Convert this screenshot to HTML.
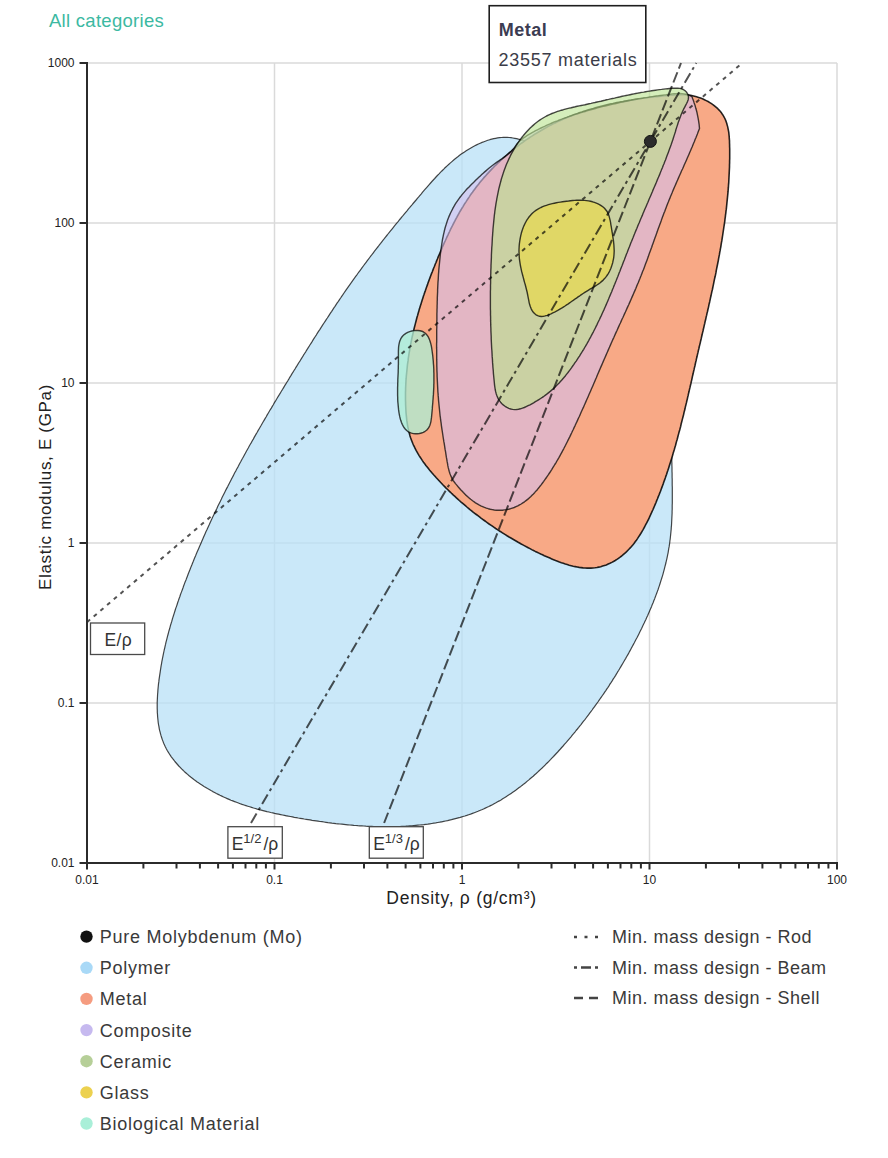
<!DOCTYPE html>
<html><head><meta charset="utf-8">
<style>
html,body{margin:0;padding:0;background:#fff;}
body{width:888px;height:1158px;position:relative;overflow:hidden;font-family:"Liberation Sans",sans-serif;}
svg{position:absolute;left:0;top:0;}
.t{position:absolute;white-space:nowrap;line-height:1;}
</style></head><body>
<svg width="888" height="1158" viewBox="0 0 888 1158">
<g stroke="#dadada" stroke-width="1.5" fill="none">
<line x1="87.0" y1="63" x2="87.0" y2="863"/>
<line x1="274.5" y1="63" x2="274.5" y2="863"/>
<line x1="462.0" y1="63" x2="462.0" y2="863"/>
<line x1="649.5" y1="63" x2="649.5" y2="863"/>
<line x1="837.0" y1="63" x2="837.0" y2="863"/>
<line x1="87" y1="863.0" x2="837" y2="863.0"/>
<line x1="87" y1="703.0" x2="837" y2="703.0"/>
<line x1="87" y1="543.0" x2="837" y2="543.0"/>
<line x1="87" y1="383.0" x2="837" y2="383.0"/>
<line x1="87" y1="223.0" x2="837" y2="223.0"/>
<line x1="87" y1="63.0" x2="837" y2="63.0"/>
</g>
<g stroke="#333" stroke-width="1.4" stroke-linejoin="round">
<path d="M159.0,679.9 L159.3,677.8 L159.6,675.8 L159.9,673.8 L160.2,671.8 L160.5,669.8 L160.8,667.8 L161.1,665.8 L161.5,663.8 L161.8,661.8 L162.2,659.8 L162.6,657.9 L163.0,655.9 L163.4,653.9 L163.8,652.0 L164.2,650.0 L164.7,648.1 L165.1,646.1 L165.6,644.2 L166.0,642.2 L166.5,640.3 L167.0,638.4 L167.5,636.4 L168.0,634.5 L168.5,632.6 L169.0,630.7 L169.6,628.8 L170.1,626.9 L170.6,625.0 L171.2,623.1 L171.8,621.2 L172.3,619.3 L172.9,617.4 L173.5,615.5 L174.1,613.6 L174.7,611.7 L175.3,609.8 L175.9,607.9 L176.6,606.1 L177.2,604.2 L177.8,602.3 L178.5,600.4 L179.1,598.5 L179.8,596.7 L180.4,594.8 L181.1,592.9 L181.8,591.1 L182.5,589.2 L183.2,587.3 L183.8,585.5 L184.5,583.6 L185.2,581.8 L186.0,579.9 L186.7,578.0 L187.4,576.2 L188.1,574.3 L188.8,572.5 L189.6,570.6 L190.3,568.7 L191.0,566.9 L191.8,565.0 L192.5,563.2 L193.3,561.3 L194.0,559.5 L194.8,557.6 L195.6,555.8 L196.3,553.9 L197.1,552.1 L197.9,550.2 L198.7,548.4 L199.5,546.5 L200.3,544.7 L201.1,542.9 L201.9,541.0 L202.7,539.2 L203.5,537.3 L204.3,535.5 L205.1,533.7 L205.9,531.8 L206.8,530.0 L207.6,528.2 L208.4,526.4 L209.3,524.5 L210.1,522.7 L210.9,520.9 L211.8,519.1 L212.6,517.2 L213.5,515.4 L214.4,513.6 L215.2,511.8 L216.1,510.0 L217.0,508.2 L217.8,506.3 L218.7,504.5 L219.6,502.7 L220.5,500.9 L221.4,499.1 L222.2,497.3 L223.1,495.5 L224.0,493.7 L224.9,491.9 L225.8,490.1 L226.7,488.4 L227.7,486.6 L228.6,484.8 L229.5,483.0 L230.4,481.2 L231.3,479.4 L232.2,477.7 L233.2,475.9 L234.1,474.1 L235.0,472.3 L236.0,470.6 L236.9,468.8 L237.9,467.1 L238.8,465.3 L239.7,463.5 L240.7,461.8 L241.6,460.0 L242.6,458.3 L243.6,456.5 L244.5,454.8 L245.5,453.0 L246.4,451.3 L247.4,449.5 L248.4,447.8 L249.3,446.0 L250.3,444.3 L251.3,442.6 L252.3,440.8 L253.3,439.1 L254.2,437.4 L255.2,435.6 L256.2,433.9 L257.2,432.2 L258.2,430.4 L259.2,428.7 L260.2,427.0 L261.2,425.3 L262.2,423.5 L263.2,421.8 L264.2,420.1 L265.2,418.4 L266.2,416.7 L267.2,414.9 L268.2,413.2 L269.2,411.5 L270.2,409.8 L271.3,408.1 L272.3,406.4 L273.3,404.7 L274.3,402.9 L275.4,401.2 L276.4,399.5 L277.4,397.8 L278.4,396.1 L279.5,394.4 L280.5,392.7 L281.5,391.0 L282.6,389.3 L283.6,387.6 L284.6,385.9 L285.7,384.2 L286.7,382.5 L287.8,380.8 L288.8,379.1 L289.8,377.3 L290.9,375.6 L291.9,373.9 L293.0,372.2 L294.0,370.5 L295.1,368.8 L296.1,367.1 L297.2,365.4 L298.2,363.7 L299.3,362.0 L300.4,360.3 L301.4,358.6 L302.5,356.9 L303.5,355.2 L304.6,353.5 L305.7,351.8 L306.7,350.1 L307.8,348.4 L308.9,346.7 L309.9,345.0 L311.0,343.3 L312.1,341.6 L313.1,339.9 L314.2,338.2 L315.3,336.5 L316.4,334.8 L317.4,333.1 L318.5,331.4 L319.6,329.8 L320.7,328.1 L321.8,326.4 L322.9,324.7 L324.0,323.0 L325.1,321.3 L326.2,319.6 L327.3,318.0 L328.4,316.3 L329.5,314.6 L330.6,312.9 L331.7,311.3 L332.8,309.6 L333.9,307.9 L335.0,306.3 L336.1,304.6 L337.2,302.9 L338.4,301.3 L339.5,299.6 L340.6,298.0 L341.7,296.3 L342.9,294.7 L344.0,293.0 L345.1,291.4 L346.3,289.7 L347.4,288.1 L348.6,286.4 L349.7,284.8 L350.9,283.2 L352.0,281.6 L353.2,279.9 L354.3,278.3 L355.5,276.7 L356.7,275.1 L357.8,273.5 L359.0,271.9 L360.2,270.3 L361.4,268.7 L362.5,267.1 L363.7,265.5 L364.9,263.9 L366.1,262.3 L367.3,260.7 L368.5,259.1 L369.7,257.5 L370.9,255.9 L372.1,254.4 L373.3,252.8 L374.5,251.2 L375.7,249.6 L376.9,248.1 L378.2,246.5 L379.4,244.9 L380.6,243.4 L381.8,241.8 L383.1,240.2 L384.3,238.7 L385.5,237.1 L386.8,235.5 L388.0,234.0 L389.3,232.4 L390.5,230.9 L391.8,229.3 L393.0,227.8 L394.3,226.2 L395.5,224.7 L396.8,223.1 L398.1,221.6 L399.3,220.0 L400.6,218.5 L401.9,216.9 L403.2,215.4 L404.4,213.9 L405.7,212.3 L407.0,210.8 L408.3,209.2 L409.6,207.7 L410.9,206.1 L412.2,204.6 L413.5,203.0 L414.8,201.5 L416.1,200.0 L417.4,198.4 L418.7,196.9 L420.0,195.3 L421.3,193.8 L422.6,192.2 L423.9,190.7 L425.2,189.2 L426.6,187.6 L427.9,186.1 L429.2,184.6 L430.6,183.0 L431.9,181.5 L433.3,180.0 L434.7,178.5 L436.0,177.0 L437.4,175.5 L438.8,174.1 L440.2,172.6 L441.6,171.2 L443.1,169.8 L444.5,168.3 L445.9,167.0 L447.4,165.6 L448.9,164.2 L450.4,162.9 L451.9,161.6 L453.4,160.3 L454.9,159.0 L456.5,157.7 L458.1,156.5 L459.6,155.3 L461.3,154.1 L462.9,153.0 L464.5,151.9 L466.2,150.8 L467.9,149.7 L469.6,148.7 L471.3,147.7 L473.0,146.7 L474.8,145.8 L476.6,144.9 L478.4,144.0 L480.2,143.2 L482.1,142.4 L484.0,141.7 L485.9,141.0 L487.8,140.3 L489.8,139.7 L491.7,139.2 L493.7,138.7 L495.6,138.3 L497.6,137.9 L499.5,137.7 L501.5,137.5 L503.4,137.3 L505.3,137.3 L507.3,137.4 L509.2,137.5 L511.0,137.7 L512.9,138.0 L514.8,138.3 L516.6,138.7 L518.5,139.2 L520.3,139.6 L522.2,140.2 L524.0,140.7 L525.8,141.3 L527.7,142.0 L529.5,142.7 L531.3,143.4 L533.1,144.1 L534.9,144.9 L536.7,145.7 L538.4,146.6 L540.2,147.5 L542.0,148.4 L543.7,149.4 L545.5,150.3 L547.2,151.4 L549.0,152.4 L550.7,153.5 L552.4,154.6 L554.1,155.7 L555.8,156.9 L557.5,158.0 L559.2,159.3 L560.8,160.5 L562.5,161.7 L564.1,163.0 L565.7,164.3 L567.4,165.7 L569.0,167.0 L570.6,168.4 L572.2,169.8 L573.7,171.2 L575.3,172.6 L576.9,174.0 L578.4,175.5 L579.9,177.0 L581.4,178.5 L582.9,180.0 L584.4,181.5 L585.9,183.0 L587.3,184.6 L588.8,186.2 L590.2,187.7 L591.6,189.3 L593.0,190.9 L594.4,192.5 L595.8,194.1 L597.2,195.8 L598.5,197.4 L599.8,199.0 L601.1,200.7 L602.4,202.3 L603.7,204.0 L605.0,205.7 L606.2,207.3 L607.4,209.0 L608.6,210.7 L609.8,212.4 L611.0,214.1 L612.2,215.7 L613.4,217.5 L614.5,219.2 L615.6,220.9 L616.7,222.6 L617.8,224.3 L618.9,226.0 L620.0,227.8 L621.0,229.5 L622.0,231.3 L623.1,233.0 L624.1,234.8 L625.1,236.5 L626.0,238.3 L627.0,240.1 L628.0,241.8 L628.9,243.6 L629.8,245.4 L630.7,247.2 L631.6,249.0 L632.5,250.8 L633.4,252.6 L634.3,254.4 L635.1,256.2 L635.9,258.0 L636.8,259.8 L637.6,261.7 L638.4,263.5 L639.1,265.3 L639.9,267.2 L640.7,269.0 L641.4,270.8 L642.1,272.7 L642.9,274.5 L643.6,276.4 L644.3,278.3 L645.0,280.1 L645.6,282.0 L646.3,283.9 L647.0,285.7 L647.6,287.6 L648.2,289.5 L648.8,291.4 L649.5,293.3 L650.1,295.2 L650.6,297.1 L651.2,299.0 L651.8,300.9 L652.3,302.8 L652.9,304.7 L653.4,306.6 L653.9,308.5 L654.5,310.4 L655.0,312.3 L655.5,314.3 L655.9,316.2 L656.4,318.1 L656.9,320.0 L657.3,322.0 L657.8,323.9 L658.2,325.9 L658.7,327.8 L659.1,329.7 L659.5,331.7 L659.9,333.6 L660.3,335.6 L660.7,337.6 L661.0,339.5 L661.4,341.5 L661.8,343.4 L662.1,345.4 L662.5,347.4 L662.8,349.3 L663.1,351.3 L663.4,353.3 L663.8,355.2 L664.1,357.2 L664.4,359.2 L664.6,361.2 L664.9,363.1 L665.2,365.1 L665.5,367.1 L665.7,369.1 L666.0,371.1 L666.2,373.1 L666.5,375.1 L666.7,377.0 L666.9,379.0 L667.1,381.0 L667.4,383.0 L667.6,385.0 L667.8,387.0 L668.0,389.0 L668.2,391.0 L668.3,393.0 L668.5,395.0 L668.7,397.0 L668.9,399.0 L669.0,401.0 L669.2,403.0 L669.3,405.0 L669.5,407.0 L669.6,409.0 L669.7,411.0 L669.9,413.0 L670.0,415.0 L670.1,417.0 L670.2,419.1 L670.4,421.1 L670.5,423.1 L670.6,425.1 L670.7,427.1 L670.8,429.1 L670.9,431.1 L670.9,433.1 L671.0,435.1 L671.1,437.1 L671.2,439.1 L671.3,441.1 L671.3,443.1 L671.4,445.1 L671.5,447.1 L671.5,449.2 L671.6,451.2 L671.6,453.2 L671.7,455.2 L671.7,457.2 L671.8,459.2 L671.8,461.2 L671.9,463.2 L671.9,465.2 L672.0,467.2 L672.0,469.2 L672.0,471.2 L672.1,473.2 L672.1,475.2 L672.1,477.2 L672.2,479.2 L672.2,481.2 L672.2,483.2 L672.2,485.2 L672.3,487.2 L672.3,489.2 L672.3,491.2 L672.3,493.2 L672.3,495.2 L672.3,497.2 L672.3,499.2 L672.3,501.2 L672.3,503.2 L672.2,505.2 L672.2,507.2 L672.2,509.2 L672.1,511.2 L672.1,513.2 L672.0,515.2 L671.9,517.2 L671.8,519.2 L671.7,521.2 L671.6,523.2 L671.5,525.2 L671.3,527.1 L671.2,529.1 L671.0,531.1 L670.8,533.1 L670.6,535.1 L670.4,537.0 L670.2,539.0 L669.9,541.0 L669.7,543.0 L669.4,544.9 L669.1,546.9 L668.7,548.8 L668.4,550.8 L668.1,552.8 L667.7,554.7 L667.3,556.7 L666.9,558.6 L666.4,560.6 L666.0,562.5 L665.5,564.5 L665.0,566.4 L664.5,568.3 L664.0,570.3 L663.5,572.2 L663.0,574.1 L662.4,576.1 L661.8,578.0 L661.2,579.9 L660.6,581.8 L660.0,583.7 L659.4,585.6 L658.7,587.6 L658.1,589.5 L657.4,591.4 L656.7,593.2 L656.0,595.1 L655.3,597.0 L654.6,598.9 L653.8,600.8 L653.1,602.7 L652.3,604.5 L651.6,606.4 L650.8,608.3 L650.0,610.1 L649.2,612.0 L648.4,613.8 L647.6,615.7 L646.7,617.5 L645.9,619.4 L645.0,621.2 L644.2,623.0 L643.3,624.8 L642.4,626.7 L641.6,628.5 L640.7,630.3 L639.8,632.1 L638.9,633.9 L638.0,635.7 L637.1,637.5 L636.1,639.3 L635.2,641.0 L634.3,642.8 L633.3,644.6 L632.4,646.3 L631.4,648.1 L630.5,649.9 L629.5,651.6 L628.6,653.4 L627.6,655.1 L626.6,656.8 L625.6,658.6 L624.6,660.3 L623.6,662.0 L622.6,663.7 L621.6,665.4 L620.6,667.1 L619.6,668.8 L618.6,670.5 L617.5,672.2 L616.5,673.9 L615.5,675.6 L614.4,677.3 L613.3,678.9 L612.3,680.6 L611.2,682.3 L610.1,683.9 L609.1,685.6 L608.0,687.3 L606.9,688.9 L605.8,690.6 L604.7,692.2 L603.6,693.8 L602.4,695.5 L601.3,697.1 L600.2,698.7 L599.0,700.3 L597.9,702.0 L596.7,703.6 L595.6,705.2 L594.4,706.8 L593.2,708.4 L592.1,710.0 L590.9,711.6 L589.7,713.2 L588.5,714.8 L587.3,716.4 L586.1,718.0 L584.9,719.6 L583.6,721.1 L582.4,722.7 L581.2,724.3 L579.9,725.8 L578.7,727.4 L577.4,729.0 L576.1,730.5 L574.9,732.1 L573.6,733.7 L572.3,735.2 L571.0,736.8 L569.7,738.3 L568.4,739.8 L567.1,741.4 L565.8,742.9 L564.4,744.4 L563.1,746.0 L561.7,747.5 L560.4,749.0 L559.0,750.5 L557.7,752.0 L556.3,753.5 L554.9,755.0 L553.5,756.5 L552.1,757.9 L550.7,759.4 L549.3,760.8 L547.9,762.3 L546.4,763.7 L545.0,765.2 L543.5,766.6 L542.1,768.0 L540.6,769.4 L539.1,770.8 L537.7,772.1 L536.2,773.5 L534.7,774.8 L533.2,776.2 L531.6,777.5 L530.1,778.8 L528.6,780.1 L527.0,781.4 L525.5,782.7 L523.9,783.9 L522.3,785.2 L520.8,786.4 L519.2,787.6 L517.6,788.8 L516.0,790.0 L514.3,791.2 L512.7,792.3 L511.1,793.4 L509.4,794.6 L507.8,795.6 L506.1,796.7 L504.4,797.8 L502.7,798.8 L501.0,799.9 L499.3,800.9 L497.6,801.8 L495.9,802.8 L494.1,803.7 L492.4,804.7 L490.6,805.6 L488.8,806.5 L487.1,807.3 L485.3,808.1 L483.5,809.0 L481.7,809.8 L479.8,810.5 L478.0,811.3 L476.2,812.0 L474.3,812.7 L472.5,813.4 L470.6,814.1 L468.7,814.7 L466.8,815.4 L464.9,816.0 L463.0,816.5 L461.1,817.1 L459.2,817.7 L457.3,818.2 L455.4,818.7 L453.4,819.2 L451.5,819.7 L449.5,820.1 L447.6,820.6 L445.6,821.0 L443.7,821.4 L441.7,821.8 L439.7,822.2 L437.7,822.5 L435.8,822.9 L433.8,823.2 L431.8,823.5 L429.8,823.8 L427.8,824.1 L425.8,824.3 L423.8,824.6 L421.8,824.8 L419.8,825.0 L417.8,825.2 L415.8,825.4 L413.8,825.6 L411.8,825.8 L409.8,825.9 L407.8,826.0 L405.8,826.2 L403.8,826.3 L401.8,826.4 L399.8,826.5 L397.8,826.5 L395.8,826.6 L393.8,826.6 L391.8,826.7 L389.8,826.7 L387.8,826.7 L385.8,826.7 L383.8,826.7 L381.8,826.7 L379.8,826.7 L377.8,826.6 L375.8,826.6 L373.8,826.5 L371.8,826.4 L369.8,826.4 L367.8,826.3 L365.8,826.2 L363.8,826.0 L361.8,825.9 L359.8,825.8 L357.8,825.7 L355.8,825.5 L353.8,825.4 L351.8,825.2 L349.8,825.0 L347.8,824.8 L345.8,824.6 L343.9,824.4 L341.9,824.2 L339.9,824.0 L337.9,823.8 L335.9,823.6 L333.9,823.3 L331.9,823.1 L329.9,822.8 L328.0,822.6 L326.0,822.3 L324.0,822.0 L322.0,821.7 L320.0,821.5 L318.0,821.2 L316.1,820.9 L314.1,820.6 L312.1,820.3 L310.1,819.9 L308.1,819.6 L306.2,819.3 L304.2,819.0 L302.2,818.6 L300.2,818.3 L298.3,818.0 L296.3,817.6 L294.3,817.3 L292.4,816.9 L290.4,816.5 L288.4,816.2 L286.5,815.8 L284.5,815.4 L282.5,815.0 L280.6,814.6 L278.6,814.2 L276.7,813.8 L274.7,813.4 L272.8,812.9 L270.8,812.5 L268.9,812.0 L266.9,811.6 L265.0,811.1 L263.1,810.6 L261.2,810.1 L259.2,809.6 L257.3,809.1 L255.4,808.5 L253.5,808.0 L251.6,807.4 L249.7,806.8 L247.8,806.2 L245.9,805.6 L244.0,805.0 L242.1,804.4 L240.2,803.7 L238.4,803.0 L236.5,802.3 L234.6,801.6 L232.8,800.9 L230.9,800.2 L229.1,799.4 L227.2,798.6 L225.4,797.8 L223.6,797.0 L221.8,796.1 L220.0,795.3 L218.2,794.4 L216.4,793.5 L214.6,792.5 L212.8,791.6 L211.0,790.6 L209.3,789.6 L207.5,788.6 L205.8,787.5 L204.0,786.4 L202.3,785.3 L200.6,784.2 L198.9,783.1 L197.2,781.9 L195.6,780.7 L193.9,779.5 L192.3,778.2 L190.7,777.0 L189.1,775.7 L187.6,774.4 L186.0,773.0 L184.5,771.7 L183.1,770.3 L181.6,768.9 L180.2,767.4 L178.8,766.0 L177.5,764.5 L176.2,763.0 L174.9,761.5 L173.7,759.9 L172.5,758.4 L171.3,756.8 L170.2,755.2 L169.1,753.5 L168.1,751.9 L167.1,750.2 L166.2,748.5 L165.3,746.7 L164.5,745.0 L163.7,743.2 L163.0,741.4 L162.3,739.6 L161.7,737.8 L161.1,735.9 L160.6,734.1 L160.1,732.2 L159.6,730.3 L159.2,728.3 L158.9,726.4 L158.5,724.5 L158.2,722.5 L158.0,720.5 L157.8,718.5 L157.6,716.5 L157.5,714.5 L157.3,712.5 L157.3,710.5 L157.2,708.5 L157.2,706.5 L157.2,704.4 L157.2,702.4 L157.3,700.3 L157.4,698.3 L157.5,696.2 L157.6,694.2 L157.8,692.1 L157.9,690.1 L158.1,688.0 L158.3,686.0 L158.5,683.9 L158.8,681.9Z" fill="rgb(184,224,247)" fill-opacity="0.75" stroke="#000" stroke-opacity="0.72" stroke-width="1.2"/>
<path d="M511.4,151.1 L512.9,149.8 L514.5,148.6 L516.1,147.3 L517.7,146.1 L519.2,144.9 L520.8,143.7 L522.5,142.5 L524.1,141.4 L525.7,140.2 L527.3,139.1 L529.0,138.0 L530.6,136.9 L532.3,135.8 L533.9,134.8 L535.6,133.7 L537.3,132.7 L539.0,131.7 L540.7,130.7 L542.4,129.7 L544.1,128.7 L545.8,127.8 L547.5,126.8 L549.2,125.9 L551.0,125.0 L552.7,124.1 L554.5,123.2 L556.3,122.4 L558.0,121.5 L559.8,120.7 L561.6,119.9 L563.4,119.1 L565.2,118.3 L567.0,117.6 L568.9,116.8 L570.7,116.1 L572.6,115.3 L574.4,114.6 L576.3,113.9 L578.1,113.3 L580.0,112.6 L581.9,112.0 L583.8,111.3 L585.7,110.7 L587.6,110.1 L589.5,109.5 L591.4,108.9 L593.3,108.4 L595.3,107.8 L597.2,107.3 L599.2,106.8 L601.1,106.3 L603.1,105.8 L605.0,105.3 L607.0,104.8 L609.0,104.3 L610.9,103.9 L612.9,103.5 L614.9,103.0 L616.9,102.6 L618.9,102.2 L620.9,101.8 L622.9,101.5 L624.9,101.1 L626.9,100.7 L628.9,100.4 L630.9,100.1 L632.9,99.7 L634.9,99.4 L636.9,99.1 L638.9,98.8 L640.9,98.5 L642.9,98.3 L644.9,98.0 L646.9,97.7 L648.9,97.5 L650.9,97.2 L652.9,97.0 L654.9,96.8 L656.9,96.6 L658.9,96.4 L660.9,96.1 L662.9,96.0 L664.9,95.8 L666.9,95.6 L668.9,95.4 L670.8,95.2 L672.8,95.1 L674.8,95.0 L676.8,94.8 L678.7,94.8 L680.7,94.7 L682.7,94.7 L684.7,94.8 L686.7,94.9 L688.7,95.1 L690.6,95.4 L692.6,95.8 L694.6,96.3 L696.6,96.8 L698.6,97.4 L700.6,98.1 L702.5,98.8 L704.4,99.7 L706.2,100.6 L708.1,101.5 L709.8,102.6 L711.5,103.7 L713.2,104.8 L714.8,106.1 L716.3,107.4 L717.8,108.7 L719.1,110.1 L720.4,111.6 L721.6,113.1 L722.7,114.7 L723.7,116.3 L724.6,118.0 L725.4,119.7 L726.1,121.4 L726.7,123.2 L727.2,125.1 L727.7,126.9 L728.1,128.8 L728.5,130.8 L728.8,132.7 L729.0,134.7 L729.2,136.7 L729.3,138.7 L729.5,140.7 L729.5,142.7 L729.6,144.7 L729.6,146.8 L729.7,148.8 L729.7,150.8 L729.7,152.9 L729.7,154.9 L729.7,156.9 L729.7,158.9 L729.6,161.0 L729.6,163.0 L729.5,165.0 L729.5,167.0 L729.4,169.1 L729.3,171.1 L729.2,173.1 L729.1,175.1 L729.0,177.1 L728.9,179.1 L728.8,181.2 L728.7,183.2 L728.5,185.2 L728.4,187.2 L728.2,189.2 L728.1,191.2 L727.9,193.2 L727.7,195.2 L727.5,197.2 L727.3,199.2 L727.1,201.2 L726.9,203.2 L726.7,205.2 L726.5,207.2 L726.3,209.2 L726.0,211.2 L725.8,213.1 L725.5,215.1 L725.3,217.1 L725.0,219.1 L724.8,221.1 L724.5,223.1 L724.2,225.1 L723.9,227.0 L723.6,229.0 L723.3,231.0 L723.0,233.0 L722.7,235.0 L722.4,236.9 L722.1,238.9 L721.8,240.9 L721.4,242.9 L721.1,244.8 L720.8,246.8 L720.4,248.8 L720.1,250.7 L719.7,252.7 L719.4,254.7 L719.0,256.6 L718.6,258.6 L718.3,260.6 L717.9,262.5 L717.5,264.5 L717.1,266.5 L716.7,268.4 L716.3,270.4 L716.0,272.4 L715.6,274.3 L715.2,276.3 L714.7,278.2 L714.3,280.2 L713.9,282.2 L713.5,284.1 L713.1,286.1 L712.7,288.0 L712.3,290.0 L711.8,291.9 L711.4,293.9 L711.0,295.8 L710.5,297.8 L710.1,299.8 L709.7,301.7 L709.2,303.7 L708.8,305.6 L708.4,307.6 L707.9,309.5 L707.5,311.5 L707.0,313.4 L706.6,315.4 L706.1,317.3 L705.7,319.3 L705.2,321.2 L704.8,323.2 L704.3,325.1 L703.9,327.1 L703.4,329.0 L703.0,331.0 L702.5,332.9 L702.1,334.8 L701.6,336.8 L701.2,338.7 L700.7,340.7 L700.3,342.6 L699.8,344.6 L699.3,346.5 L698.9,348.5 L698.4,350.4 L698.0,352.4 L697.5,354.3 L697.1,356.3 L696.6,358.2 L696.2,360.2 L695.7,362.1 L695.3,364.0 L694.9,366.0 L694.4,367.9 L694.0,369.9 L693.5,371.8 L693.1,373.8 L692.6,375.7 L692.2,377.7 L691.8,379.6 L691.3,381.6 L690.9,383.5 L690.4,385.5 L690.0,387.4 L689.5,389.3 L689.1,391.3 L688.6,393.2 L688.2,395.2 L687.7,397.1 L687.3,399.1 L686.8,401.0 L686.4,402.9 L685.9,404.9 L685.4,406.8 L685.0,408.8 L684.5,410.7 L684.0,412.6 L683.6,414.6 L683.1,416.5 L682.6,418.4 L682.1,420.4 L681.6,422.3 L681.1,424.3 L680.7,426.2 L680.2,428.1 L679.7,430.0 L679.1,432.0 L678.6,433.9 L678.1,435.8 L677.6,437.8 L677.1,439.7 L676.5,441.6 L676.0,443.5 L675.5,445.5 L674.9,447.4 L674.4,449.3 L673.8,451.2 L673.2,453.1 L672.7,455.1 L672.1,457.0 L671.5,458.9 L670.9,460.8 L670.3,462.7 L669.7,464.6 L669.1,466.5 L668.5,468.4 L667.9,470.3 L667.2,472.2 L666.6,474.2 L665.9,476.1 L665.3,478.0 L664.6,479.9 L663.9,481.7 L663.3,483.6 L662.6,485.5 L661.9,487.4 L661.2,489.3 L660.5,491.2 L659.7,493.1 L659.0,495.0 L658.2,496.9 L657.5,498.7 L656.7,500.6 L656.0,502.5 L655.2,504.4 L654.4,506.3 L653.6,508.1 L652.8,510.0 L651.9,511.9 L651.1,513.7 L650.2,515.6 L649.4,517.4 L648.5,519.3 L647.6,521.1 L646.7,522.9 L645.7,524.7 L644.8,526.5 L643.8,528.3 L642.8,530.1 L641.8,531.8 L640.8,533.5 L639.7,535.2 L638.6,536.9 L637.5,538.6 L636.4,540.2 L635.2,541.8 L634.0,543.4 L632.8,544.9 L631.5,546.4 L630.2,547.9 L628.9,549.3 L627.5,550.7 L626.1,552.1 L624.7,553.4 L623.2,554.7 L621.7,556.0 L620.1,557.2 L618.5,558.3 L616.9,559.4 L615.2,560.5 L613.5,561.5 L611.8,562.4 L610.0,563.3 L608.2,564.1 L606.3,564.9 L604.5,565.5 L602.6,566.1 L600.7,566.7 L598.8,567.1 L596.9,567.5 L594.9,567.8 L593.0,568.0 L591.0,568.1 L589.1,568.1 L587.1,568.1 L585.1,568.0 L583.1,567.9 L581.1,567.6 L579.2,567.4 L577.2,567.0 L575.2,566.6 L573.2,566.2 L571.2,565.7 L569.2,565.2 L567.2,564.6 L565.3,564.0 L563.3,563.3 L561.4,562.7 L559.4,562.0 L557.5,561.2 L555.6,560.5 L553.6,559.7 L551.7,558.9 L549.9,558.1 L548.0,557.3 L546.2,556.5 L544.3,555.7 L542.5,554.8 L540.7,554.0 L538.9,553.1 L537.1,552.2 L535.3,551.4 L533.5,550.5 L531.7,549.6 L530.0,548.6 L528.2,547.7 L526.4,546.8 L524.7,545.9 L522.9,544.9 L521.2,544.0 L519.5,543.0 L517.7,542.0 L516.0,541.0 L514.3,540.0 L512.6,539.0 L510.9,538.0 L509.1,537.0 L507.4,536.0 L505.7,534.9 L504.1,533.9 L502.4,532.8 L500.7,531.7 L499.0,530.7 L497.4,529.6 L495.7,528.5 L494.1,527.4 L492.4,526.2 L490.8,525.1 L489.1,524.0 L487.5,522.8 L485.9,521.7 L484.3,520.5 L482.7,519.3 L481.0,518.1 L479.5,516.9 L477.9,515.7 L476.3,514.5 L474.7,513.3 L473.1,512.1 L471.6,510.8 L470.0,509.6 L468.5,508.3 L466.9,507.0 L465.4,505.7 L463.9,504.4 L462.4,503.1 L460.8,501.8 L459.3,500.5 L457.8,499.1 L456.4,497.8 L454.9,496.4 L453.4,495.1 L451.9,493.7 L450.5,492.3 L449.0,490.9 L447.6,489.5 L446.1,488.1 L444.7,486.6 L443.3,485.2 L441.9,483.7 L440.5,482.3 L439.1,480.8 L437.7,479.3 L436.3,477.8 L435.0,476.3 L433.6,474.8 L432.3,473.3 L431.0,471.7 L429.7,470.2 L428.4,468.6 L427.2,467.0 L425.9,465.4 L424.7,463.8 L423.5,462.2 L422.4,460.6 L421.3,458.9 L420.2,457.2 L419.1,455.6 L418.1,453.9 L417.1,452.1 L416.1,450.4 L415.2,448.7 L414.4,446.9 L413.5,445.1 L412.7,443.3 L412.0,441.5 L411.3,439.7 L410.6,437.8 L410.0,435.9 L409.5,434.0 L409.0,432.1 L408.5,430.2 L408.1,428.2 L407.7,426.3 L407.4,424.3 L407.1,422.3 L406.8,420.4 L406.6,418.4 L406.4,416.4 L406.2,414.4 L406.0,412.3 L405.9,410.3 L405.8,408.3 L405.7,406.3 L405.6,404.3 L405.6,402.3 L405.5,400.3 L405.5,398.3 L405.5,396.2 L405.5,394.2 L405.5,392.2 L405.6,390.2 L405.6,388.2 L405.7,386.2 L405.8,384.2 L405.9,382.2 L406.0,380.2 L406.2,378.2 L406.3,376.2 L406.5,374.3 L406.7,372.3 L406.9,370.3 L407.1,368.3 L407.3,366.3 L407.5,364.3 L407.8,362.3 L408.1,360.4 L408.3,358.4 L408.6,356.4 L408.9,354.4 L409.2,352.5 L409.6,350.5 L409.9,348.5 L410.3,346.6 L410.6,344.6 L411.0,342.6 L411.4,340.7 L411.8,338.7 L412.2,336.8 L412.7,334.8 L413.1,332.9 L413.6,330.9 L414.0,329.0 L414.5,327.0 L415.0,325.1 L415.5,323.1 L416.0,321.2 L416.5,319.3 L417.0,317.3 L417.6,315.4 L418.1,313.5 L418.7,311.6 L419.2,309.6 L419.8,307.7 L420.4,305.8 L421.0,303.9 L421.6,302.0 L422.2,300.1 L422.8,298.2 L423.4,296.3 L424.1,294.3 L424.7,292.4 L425.4,290.6 L426.0,288.7 L426.7,286.8 L427.4,284.9 L428.0,283.0 L428.7,281.1 L429.4,279.2 L430.1,277.4 L430.8,275.5 L431.5,273.6 L432.3,271.7 L433.0,269.9 L433.7,268.0 L434.5,266.2 L435.2,264.3 L436.0,262.5 L436.7,260.6 L437.5,258.8 L438.2,256.9 L439.0,255.1 L439.8,253.2 L440.6,251.4 L441.4,249.6 L442.1,247.7 L442.9,245.9 L443.7,244.1 L444.5,242.3 L445.4,240.5 L446.2,238.7 L447.0,236.9 L447.9,235.1 L448.7,233.3 L449.6,231.5 L450.4,229.7 L451.3,227.9 L452.2,226.2 L453.1,224.4 L454.0,222.6 L454.9,220.9 L455.8,219.1 L456.8,217.4 L457.7,215.7 L458.7,213.9 L459.6,212.2 L460.6,210.5 L461.6,208.8 L462.7,207.1 L463.7,205.4 L464.7,203.7 L465.8,202.1 L466.9,200.4 L468.0,198.7 L469.1,197.1 L470.2,195.4 L471.3,193.8 L472.5,192.2 L473.7,190.5 L474.9,188.9 L476.1,187.3 L477.3,185.7 L478.6,184.2 L479.8,182.6 L481.1,181.0 L482.4,179.5 L483.7,177.9 L485.1,176.4 L486.4,174.9 L487.8,173.4 L489.2,171.9 L490.6,170.4 L492.0,168.9 L493.4,167.5 L494.8,166.0 L496.3,164.6 L497.7,163.2 L499.2,161.8 L500.7,160.4 L502.2,159.0 L503.7,157.7 L505.2,156.3 L506.7,155.0 L508.3,153.7 L509.8,152.4Z" fill="#f8a986" stroke="#000" stroke-opacity="0.85" stroke-width="1.6"/>
<path d="M691.9,96.6 L692.6,98.5 L693.4,100.5 L694.0,102.4 L694.7,104.4 L695.3,106.3 L695.8,108.3 L696.4,110.3 L696.9,112.2 L697.3,114.2 L697.7,116.2 L698.1,118.2 L698.5,120.3 L698.8,122.3 L699.1,124.3 L699.3,126.4 L699.5,128.4 L698.8,130.3 L698.1,132.1 L697.4,134.0 L696.6,135.9 L695.9,137.7 L695.1,139.6 L694.4,141.5 L693.6,143.3 L692.8,145.2 L692.1,147.0 L691.3,148.8 L690.5,150.7 L689.7,152.5 L688.9,154.4 L688.1,156.2 L687.3,158.0 L686.5,159.9 L685.7,161.7 L684.9,163.5 L684.1,165.3 L683.3,167.2 L682.5,169.0 L681.6,170.8 L680.8,172.7 L680.0,174.5 L679.2,176.3 L678.4,178.1 L677.6,180.0 L676.8,181.8 L676.0,183.6 L675.2,185.5 L674.4,187.3 L673.6,189.1 L672.8,191.0 L672.1,192.8 L671.3,194.7 L670.5,196.5 L669.8,198.4 L669.0,200.2 L668.3,202.1 L667.5,204.0 L666.8,205.8 L666.1,207.7 L665.4,209.5 L664.7,211.4 L663.9,213.3 L663.2,215.2 L662.5,217.0 L661.8,218.9 L661.2,220.8 L660.5,222.7 L659.8,224.6 L659.1,226.4 L658.4,228.3 L657.7,230.2 L657.1,232.1 L656.4,234.0 L655.7,235.9 L655.0,237.8 L654.4,239.6 L653.7,241.5 L653.0,243.4 L652.3,245.3 L651.7,247.2 L651.0,249.1 L650.3,251.0 L649.6,252.8 L648.9,254.7 L648.3,256.6 L647.6,258.5 L646.9,260.4 L646.2,262.2 L645.5,264.1 L644.8,266.0 L644.1,267.9 L643.4,269.7 L642.6,271.6 L641.9,273.5 L641.2,275.3 L640.4,277.2 L639.7,279.0 L638.9,280.9 L638.2,282.7 L637.4,284.6 L636.6,286.4 L635.9,288.3 L635.1,290.1 L634.3,291.9 L633.5,293.8 L632.7,295.6 L631.9,297.4 L631.1,299.3 L630.3,301.1 L629.5,302.9 L628.7,304.8 L627.8,306.6 L627.0,308.4 L626.2,310.2 L625.4,312.0 L624.5,313.9 L623.7,315.7 L622.9,317.5 L622.0,319.3 L621.2,321.1 L620.4,323.0 L619.5,324.8 L618.7,326.6 L617.9,328.4 L617.1,330.3 L616.2,332.1 L615.4,333.9 L614.6,335.7 L613.8,337.6 L612.9,339.4 L612.1,341.2 L611.3,343.1 L610.5,344.9 L609.7,346.7 L608.9,348.6 L608.1,350.4 L607.3,352.2 L606.5,354.1 L605.7,355.9 L604.9,357.7 L604.1,359.6 L603.3,361.4 L602.5,363.3 L601.7,365.1 L600.9,366.9 L600.1,368.8 L599.3,370.6 L598.5,372.5 L597.7,374.3 L596.9,376.2 L596.2,378.0 L595.4,379.8 L594.6,381.7 L593.8,383.5 L593.0,385.4 L592.2,387.2 L591.4,389.0 L590.6,390.9 L589.8,392.7 L589.0,394.5 L588.2,396.4 L587.4,398.2 L586.6,400.1 L585.8,401.9 L585.0,403.7 L584.2,405.5 L583.4,407.4 L582.5,409.2 L581.7,411.0 L580.9,412.8 L580.1,414.7 L579.3,416.5 L578.4,418.3 L577.6,420.1 L576.8,421.9 L575.9,423.7 L575.1,425.6 L574.2,427.4 L573.4,429.2 L572.5,431.0 L571.7,432.8 L570.8,434.6 L570.0,436.4 L569.1,438.1 L568.2,439.9 L567.3,441.7 L566.4,443.5 L565.5,445.3 L564.6,447.0 L563.7,448.8 L562.7,450.6 L561.8,452.3 L560.8,454.1 L559.9,455.8 L558.9,457.6 L557.9,459.3 L556.9,461.0 L555.9,462.8 L554.8,464.5 L553.8,466.2 L552.7,467.9 L551.7,469.6 L550.6,471.3 L549.5,473.0 L548.4,474.7 L547.2,476.4 L546.1,478.0 L544.9,479.7 L543.7,481.4 L542.5,483.0 L541.3,484.6 L540.0,486.2 L538.8,487.8 L537.5,489.4 L536.1,490.9 L534.8,492.4 L533.4,493.9 L532.0,495.3 L530.6,496.7 L529.1,498.1 L527.6,499.4 L526.0,500.6 L524.5,501.8 L522.8,502.9 L521.2,504.0 L519.5,504.9 L517.8,505.9 L516.0,506.7 L514.2,507.5 L512.3,508.1 L510.4,508.7 L508.4,509.2 L506.4,509.6 L504.4,509.9 L502.4,510.2 L500.4,510.3 L498.3,510.3 L496.3,510.2 L494.3,510.0 L492.3,509.6 L490.3,509.2 L488.3,508.7 L486.4,508.1 L484.5,507.4 L482.6,506.6 L480.8,505.8 L479.0,504.9 L477.3,503.9 L475.5,502.8 L473.9,501.7 L472.3,500.5 L470.7,499.3 L469.2,498.1 L467.7,496.7 L466.2,495.4 L464.8,494.0 L463.4,492.6 L462.0,491.1 L460.7,489.7 L459.4,488.2 L458.1,486.7 L456.8,485.1 L455.5,483.6 L454.3,482.0 L453.1,480.3 L452.1,478.6 L451.3,476.9 L450.5,475.0 L449.8,473.2 L449.2,471.3 L448.7,469.4 L448.2,467.4 L447.8,465.4 L447.5,463.4 L447.1,461.4 L446.8,459.4 L446.4,457.4 L446.1,455.4 L445.8,453.4 L445.5,451.4 L445.1,449.4 L444.8,447.4 L444.5,445.4 L444.2,443.4 L443.8,441.4 L443.5,439.4 L443.2,437.5 L442.9,435.5 L442.6,433.5 L442.3,431.5 L442.0,429.6 L441.7,427.6 L441.4,425.6 L441.2,423.7 L440.9,421.7 L440.6,419.7 L440.4,417.7 L440.1,415.8 L439.9,413.8 L439.7,411.8 L439.5,409.8 L439.3,407.9 L439.1,405.9 L438.9,403.9 L438.7,401.9 L438.5,399.9 L438.4,397.9 L438.2,395.9 L438.1,393.9 L437.9,392.0 L437.8,390.0 L437.7,388.0 L437.6,386.0 L437.5,384.0 L437.4,382.0 L437.3,380.0 L437.2,378.0 L437.1,376.0 L437.1,374.0 L437.0,372.0 L436.9,370.0 L436.9,368.0 L436.8,365.9 L436.8,363.9 L436.8,361.9 L436.7,359.9 L436.7,357.9 L436.7,355.9 L436.7,353.9 L436.7,351.9 L436.7,349.9 L436.6,347.9 L436.6,345.9 L436.6,343.9 L436.7,341.9 L436.7,339.9 L436.7,337.9 L436.7,335.8 L436.7,333.8 L436.7,331.8 L436.7,329.8 L436.8,327.8 L436.8,325.8 L436.8,323.8 L436.8,321.8 L436.9,319.8 L436.9,317.8 L436.9,315.8 L436.9,313.8 L437.0,311.8 L437.0,309.8 L437.1,307.8 L437.1,305.8 L437.2,303.8 L437.2,301.8 L437.3,299.9 L437.3,297.9 L437.4,295.9 L437.5,293.9 L437.6,291.9 L437.6,289.9 L437.7,287.9 L437.8,285.9 L437.9,283.9 L438.0,281.9 L438.2,279.9 L438.3,277.9 L438.4,275.9 L438.5,273.9 L438.7,271.9 L438.8,269.9 L439.0,267.9 L439.2,265.9 L439.4,263.9 L439.6,262.0 L439.8,260.0 L440.0,258.0 L440.2,256.0 L440.4,254.0 L440.7,252.0 L440.9,250.0 L441.2,248.0 L441.5,246.0 L441.8,244.0 L442.1,242.0 L442.4,240.0 L442.8,238.0 L443.2,236.1 L443.6,234.1 L444.1,232.1 L444.5,230.2 L445.0,228.3 L445.6,226.3 L446.2,224.4 L446.8,222.5 L447.4,220.6 L448.1,218.8 L448.8,216.9 L449.6,215.1 L450.4,213.3 L451.3,211.5 L452.2,209.7 L453.1,207.9 L454.1,206.2 L455.1,204.4 L456.2,202.7 L457.3,201.1 L458.5,199.4 L459.6,197.8 L460.9,196.2 L462.1,194.6 L463.4,193.1 L464.7,191.6 L466.0,190.1 L467.4,188.6 L468.8,187.2 L470.2,185.7 L471.6,184.3 L473.0,182.9 L474.5,181.5 L475.9,180.1 L477.3,178.7 L478.8,177.3 L480.3,175.9 L481.7,174.6 L483.2,173.2 L484.7,171.9 L486.2,170.6 L487.7,169.3 L489.2,168.0 L490.8,166.7 L492.4,165.5 L494.0,164.3 L495.6,163.1 L497.3,161.9 L498.9,160.8 L500.6,159.7 L502.3,158.6 L504.0,157.4 L505.6,156.2 L507.2,155.0 L508.7,153.7 L510.2,152.4 L511.6,151.0 L512.8,149.5 L514.1,148.0 L515.3,146.4 L516.4,144.8 L517.7,143.2 L519.0,141.7 L520.4,140.4 L521.9,139.1 L523.5,137.9 L525.2,136.8 L526.9,135.7 L528.6,134.7 L530.4,133.7 L532.1,132.7 L533.9,131.7 L535.6,130.7 L537.4,129.8 L539.2,128.9 L541.0,128.0 L542.8,127.1 L544.6,126.3 L546.4,125.4 L548.2,124.6 L550.1,123.8 L551.9,123.0 L553.7,122.2 L555.6,121.5 L557.5,120.8 L559.3,120.0 L561.2,119.3 L563.1,118.6 L564.9,118.0 L566.8,117.3 L568.7,116.6 L570.6,116.0 L572.5,115.3 L574.4,114.7 L576.3,114.1 L578.2,113.5 L580.1,112.9 L582.0,112.3 L584.0,111.7 L585.9,111.2 L587.8,110.6 L589.7,110.1 L591.7,109.5 L593.6,109.0 L595.5,108.5 L597.4,107.9 L599.4,107.4 L601.3,106.9 L603.3,106.4 L605.2,106.0 L607.1,105.5 L609.1,105.0 L611.0,104.6 L613.0,104.1 L615.0,103.7 L616.9,103.2 L618.9,102.8 L620.8,102.4 L622.8,102.0 L624.7,101.5 L626.7,101.2 L628.7,100.8 L630.6,100.4 L632.6,100.0 L634.6,99.6 L636.6,99.3 L638.5,98.9 L640.5,98.6 L642.5,98.2 L644.4,97.9 L646.4,97.6 L648.4,97.2 L650.4,96.9 L652.4,96.6 L654.3,96.3 L656.3,96.0 L658.3,95.8 L660.3,95.5 L662.3,95.2 L664.3,94.9 L666.2,94.7 L668.2,94.4 L670.2,94.2 L672.2,93.9 L674.2,93.7 L676.2,93.6 L678.2,93.5 L680.1,93.5 L682.1,93.6 L684.1,93.9 L686.1,94.3 L688.0,94.9 L690.0,95.7Z" fill="rgb(213,191,239)" fill-opacity="0.6" stroke="#000" stroke-opacity="0.72"/>
<path d="M519.9,140.0 L521.1,138.4 L522.4,136.8 L523.6,135.2 L524.9,133.7 L526.2,132.2 L527.6,130.7 L529.0,129.2 L530.4,127.8 L531.9,126.4 L533.4,125.1 L534.9,123.8 L536.5,122.5 L538.1,121.3 L539.7,120.1 L541.4,119.0 L543.1,118.0 L544.8,117.0 L546.5,116.0 L548.3,115.1 L550.1,114.3 L551.9,113.5 L553.8,112.8 L555.7,112.1 L557.5,111.4 L559.5,110.8 L561.4,110.2 L563.3,109.7 L565.3,109.1 L567.2,108.6 L569.2,108.1 L571.2,107.7 L573.2,107.2 L575.2,106.8 L577.2,106.3 L579.2,105.9 L581.2,105.5 L583.2,105.1 L585.1,104.7 L587.1,104.2 L589.1,103.8 L591.1,103.4 L593.0,102.9 L595.0,102.5 L597.0,102.0 L598.9,101.6 L600.9,101.2 L602.8,100.7 L604.8,100.3 L606.7,99.8 L608.6,99.4 L610.6,98.9 L612.5,98.5 L614.5,98.1 L616.4,97.6 L618.3,97.2 L620.3,96.8 L622.2,96.3 L624.2,95.9 L626.1,95.5 L628.0,95.1 L630.0,94.7 L631.9,94.3 L633.9,93.9 L635.8,93.5 L637.8,93.1 L639.7,92.8 L641.7,92.4 L643.7,92.1 L645.6,91.7 L647.6,91.4 L649.6,91.1 L651.6,90.8 L653.5,90.5 L655.5,90.2 L657.5,89.9 L659.5,89.6 L661.6,89.4 L663.6,89.1 L665.6,88.9 L667.6,88.7 L669.7,88.5 L671.7,88.3 L673.8,88.2 L675.8,88.1 L677.8,88.2 L679.8,88.4 L681.6,88.8 L683.3,89.5 L684.9,90.6 L686.4,92.0 L687.6,93.8 L688.3,95.8 L688.5,97.7 L688.2,99.7 L687.5,101.6 L686.6,103.5 L685.6,105.4 L684.6,107.3 L683.6,109.2 L682.7,111.1 L681.9,113.0 L681.1,114.8 L680.4,116.7 L679.7,118.6 L679.0,120.5 L678.3,122.3 L677.7,124.2 L677.1,126.1 L676.5,127.9 L675.9,129.8 L675.4,131.7 L674.8,133.6 L674.2,135.4 L673.6,137.3 L673.0,139.2 L672.4,141.1 L671.7,143.0 L671.1,144.8 L670.4,146.7 L669.7,148.6 L669.0,150.5 L668.3,152.4 L667.6,154.3 L666.9,156.1 L666.2,158.0 L665.5,159.9 L664.7,161.8 L664.0,163.7 L663.2,165.5 L662.5,167.4 L661.7,169.3 L661.0,171.1 L660.2,173.0 L659.5,174.9 L658.7,176.7 L657.9,178.6 L657.1,180.4 L656.4,182.3 L655.6,184.1 L654.8,186.0 L654.0,187.8 L653.2,189.6 L652.5,191.5 L651.7,193.3 L650.9,195.2 L650.1,197.0 L649.3,198.8 L648.5,200.7 L647.8,202.5 L647.0,204.3 L646.2,206.2 L645.4,208.0 L644.6,209.8 L643.8,211.7 L643.0,213.5 L642.3,215.4 L641.5,217.2 L640.7,219.0 L639.9,220.9 L639.2,222.7 L638.4,224.6 L637.6,226.4 L636.9,228.3 L636.1,230.1 L635.3,232.0 L634.6,233.8 L633.8,235.7 L633.1,237.5 L632.3,239.4 L631.6,241.2 L630.8,243.1 L630.1,245.0 L629.4,246.8 L628.6,248.7 L627.9,250.6 L627.2,252.4 L626.4,254.3 L625.7,256.2 L625.0,258.1 L624.3,259.9 L623.5,261.8 L622.8,263.7 L622.1,265.5 L621.3,267.4 L620.6,269.3 L619.9,271.2 L619.1,273.0 L618.4,274.9 L617.7,276.8 L616.9,278.7 L616.2,280.5 L615.4,282.4 L614.7,284.3 L613.9,286.1 L613.2,288.0 L612.4,289.8 L611.7,291.7 L610.9,293.6 L610.1,295.4 L609.3,297.3 L608.6,299.1 L607.8,301.0 L607.0,302.8 L606.2,304.6 L605.4,306.5 L604.6,308.3 L603.8,310.1 L602.9,312.0 L602.1,313.8 L601.3,315.6 L600.4,317.4 L599.6,319.2 L598.7,321.0 L597.8,322.8 L597.0,324.6 L596.1,326.4 L595.2,328.2 L594.3,330.0 L593.4,331.8 L592.4,333.6 L591.5,335.3 L590.6,337.1 L589.6,338.8 L588.7,340.6 L587.7,342.3 L586.7,344.1 L585.7,345.8 L584.7,347.5 L583.7,349.3 L582.6,351.0 L581.6,352.7 L580.5,354.4 L579.5,356.1 L578.4,357.7 L577.3,359.4 L576.2,361.1 L575.0,362.7 L573.9,364.4 L572.7,366.0 L571.6,367.7 L570.4,369.3 L569.2,370.9 L568.0,372.5 L566.7,374.1 L565.5,375.7 L564.2,377.2 L562.9,378.7 L561.6,380.2 L560.2,381.7 L558.9,383.2 L557.5,384.6 L556.1,386.0 L554.7,387.4 L553.2,388.8 L551.7,390.1 L550.2,391.4 L548.7,392.6 L547.1,393.9 L545.5,395.1 L543.9,396.3 L542.3,397.4 L540.6,398.5 L538.9,399.6 L537.2,400.7 L535.4,401.7 L533.6,402.8 L531.8,403.8 L530.0,404.8 L528.1,405.7 L526.2,406.6 L524.3,407.5 L522.4,408.2 L520.4,408.8 L518.5,409.3 L516.5,409.5 L514.6,409.6 L512.6,409.4 L510.7,409.0 L508.8,408.3 L506.9,407.4 L505.1,406.3 L503.5,405.1 L501.9,403.7 L500.6,402.2 L499.4,400.6 L498.3,398.9 L497.5,397.1 L496.7,395.3 L496.1,393.4 L495.6,391.4 L495.2,389.5 L494.9,387.5 L494.6,385.4 L494.4,383.4 L494.2,381.3 L494.0,379.3 L493.8,377.2 L493.6,375.2 L493.4,373.1 L493.3,371.1 L493.1,369.0 L492.9,367.0 L492.8,365.0 L492.6,362.9 L492.5,360.9 L492.4,358.9 L492.2,356.9 L492.1,354.8 L492.0,352.8 L491.9,350.8 L491.7,348.8 L491.6,346.8 L491.5,344.8 L491.4,342.8 L491.3,340.8 L491.2,338.8 L491.2,336.8 L491.1,334.8 L491.0,332.8 L490.9,330.8 L490.9,328.8 L490.8,326.8 L490.7,324.9 L490.7,322.9 L490.6,320.9 L490.6,318.9 L490.6,316.9 L490.5,314.9 L490.5,313.0 L490.5,311.0 L490.4,309.0 L490.4,307.0 L490.4,305.1 L490.4,303.1 L490.4,301.1 L490.4,299.1 L490.4,297.1 L490.4,295.2 L490.4,293.2 L490.4,291.2 L490.5,289.2 L490.5,287.2 L490.5,285.3 L490.6,283.3 L490.6,281.3 L490.6,279.3 L490.7,277.3 L490.7,275.3 L490.8,273.3 L490.8,271.3 L490.9,269.4 L491.0,267.4 L491.0,265.4 L491.1,263.4 L491.2,261.4 L491.3,259.4 L491.4,257.4 L491.4,255.3 L491.5,253.3 L491.6,251.3 L491.7,249.3 L491.8,247.3 L492.0,245.3 L492.1,243.2 L492.2,241.2 L492.3,239.2 L492.4,237.2 L492.6,235.1 L492.7,233.1 L492.9,231.1 L493.0,229.0 L493.2,227.0 L493.4,225.0 L493.6,222.9 L493.8,220.9 L494.0,218.9 L494.2,216.9 L494.4,214.8 L494.7,212.8 L494.9,210.8 L495.2,208.8 L495.5,206.8 L495.8,204.8 L496.1,202.8 L496.5,200.8 L496.8,198.8 L497.2,196.8 L497.6,194.8 L498.0,192.9 L498.4,190.9 L498.8,188.9 L499.3,187.0 L499.8,185.0 L500.3,183.1 L500.8,181.2 L501.3,179.3 L501.9,177.4 L502.5,175.5 L503.1,173.6 L503.7,171.7 L504.4,169.8 L505.1,168.0 L505.8,166.1 L506.5,164.3 L507.3,162.5 L508.1,160.7 L508.9,158.9 L509.8,157.1 L510.6,155.3 L511.5,153.6 L512.5,151.8 L513.5,150.1 L514.5,148.4 L515.5,146.7 L516.5,145.0 L517.6,143.3 L518.8,141.7Z" fill="rgb(185,227,142)" fill-opacity="0.6" stroke="#000" stroke-opacity="0.72"/>
<path d="M519.0,251.8 L519.0,249.8 L519.1,247.7 L519.2,245.7 L519.4,243.6 L519.7,241.5 L520.0,239.5 L520.4,237.4 L520.8,235.4 L521.3,233.3 L521.9,231.3 L522.5,229.4 L523.2,227.5 L524.0,225.6 L524.9,223.7 L525.8,222.0 L526.8,220.2 L527.9,218.6 L529.0,217.0 L530.3,215.5 L531.6,214.1 L532.9,212.7 L534.4,211.5 L535.9,210.4 L537.5,209.3 L539.2,208.4 L540.9,207.5 L542.7,206.7 L544.6,205.9 L546.5,205.3 L548.4,204.7 L550.3,204.1 L552.3,203.6 L554.3,203.2 L556.4,202.8 L558.4,202.4 L560.4,202.1 L562.5,201.8 L564.5,201.5 L566.6,201.2 L568.6,201.0 L570.6,200.7 L572.6,200.5 L574.6,200.4 L576.6,200.3 L578.6,200.2 L580.6,200.2 L582.5,200.3 L584.5,200.4 L586.5,200.6 L588.5,200.9 L590.5,201.3 L592.5,201.8 L594.4,202.4 L596.3,203.1 L598.1,203.9 L599.9,204.8 L601.5,205.9 L603.1,207.0 L604.5,208.3 L605.7,209.7 L606.9,211.2 L607.8,212.9 L608.6,214.7 L609.2,216.6 L609.7,218.6 L610.2,220.6 L610.6,222.7 L610.9,224.8 L611.3,226.9 L611.6,229.0 L611.9,231.0 L612.3,233.1 L612.6,235.1 L612.9,237.1 L613.2,239.1 L613.5,241.1 L613.7,243.1 L613.9,245.0 L614.0,247.0 L614.1,249.0 L614.2,250.9 L614.1,252.9 L614.0,254.8 L613.8,256.8 L613.5,258.8 L613.1,260.7 L612.7,262.7 L612.1,264.6 L611.5,266.6 L610.8,268.4 L610.0,270.3 L609.1,272.1 L608.1,273.8 L607.0,275.5 L605.8,277.1 L604.6,278.6 L603.2,280.1 L601.7,281.4 L600.2,282.7 L598.6,283.9 L596.9,285.0 L595.2,286.1 L593.5,287.2 L591.8,288.2 L590.0,289.2 L588.2,290.3 L586.5,291.3 L584.8,292.4 L583.1,293.5 L581.4,294.6 L579.8,295.8 L578.1,296.9 L576.5,298.1 L574.8,299.2 L573.2,300.4 L571.5,301.5 L569.9,302.7 L568.3,303.8 L566.6,304.9 L565.0,306.0 L563.3,307.1 L561.6,308.2 L559.9,309.2 L558.2,310.2 L556.4,311.2 L554.6,312.1 L552.8,312.9 L551.0,313.8 L549.1,314.6 L547.2,315.3 L545.2,315.9 L543.3,316.4 L541.3,316.5 L539.5,316.3 L537.7,315.7 L536.0,314.8 L534.5,313.5 L533.1,312.0 L532.0,310.4 L531.1,308.6 L530.4,306.8 L529.7,304.8 L529.2,302.8 L528.8,300.7 L528.4,298.7 L528.0,296.6 L527.6,294.5 L527.2,292.5 L526.7,290.5 L526.2,288.5 L525.7,286.5 L525.2,284.5 L524.6,282.6 L524.1,280.7 L523.6,278.8 L523.1,276.9 L522.6,275.0 L522.1,273.1 L521.6,271.2 L521.2,269.3 L520.8,267.4 L520.4,265.5 L520.1,263.6 L519.8,261.7 L519.5,259.7 L519.3,257.8 L519.2,255.8 L519.1,253.8Z" fill="rgb(239,219,61)" fill-opacity="0.6" stroke="#000" stroke-opacity="0.75"/>
<path d="M402.7,336.0 L404.2,334.6 L405.9,333.4 L407.7,332.4 L409.7,331.6 L411.8,331.0 L413.9,330.6 L416.0,330.4 L418.0,330.5 L420.0,330.7 L421.9,331.2 L423.5,332.0 L425.0,333.0 L426.3,334.2 L427.4,335.6 L428.4,337.2 L429.2,338.9 L429.9,340.7 L430.5,342.7 L431.0,344.7 L431.5,346.8 L431.8,348.9 L432.1,351.0 L432.4,353.2 L432.7,355.3 L432.9,357.4 L433.1,359.4 L433.3,361.5 L433.4,363.5 L433.6,365.5 L433.7,367.5 L433.8,369.5 L433.8,371.5 L433.9,373.4 L433.9,375.4 L433.9,377.3 L433.9,379.3 L433.9,381.2 L433.9,383.2 L433.8,385.1 L433.8,387.0 L433.7,389.0 L433.6,390.9 L433.5,392.9 L433.4,394.9 L433.2,396.8 L433.1,398.8 L432.9,400.8 L432.8,402.8 L432.6,404.8 L432.4,406.9 L432.3,408.9 L432.1,411.0 L431.9,413.1 L431.7,415.3 L431.5,417.4 L431.2,419.5 L430.9,421.6 L430.4,423.6 L429.8,425.5 L429.0,427.2 L427.9,428.8 L426.6,430.2 L425.1,431.3 L423.3,432.3 L421.4,433.0 L419.4,433.5 L417.4,433.7 L415.3,433.8 L413.4,433.6 L411.5,433.1 L409.7,432.5 L408.1,431.6 L406.7,430.5 L405.4,429.2 L404.2,427.8 L403.2,426.2 L402.3,424.4 L401.5,422.6 L400.8,420.6 L400.2,418.6 L399.7,416.4 L399.3,414.3 L398.9,412.1 L398.6,409.9 L398.4,407.7 L398.2,405.6 L398.0,403.5 L397.8,401.4 L397.7,399.3 L397.7,397.3 L397.6,395.3 L397.6,393.3 L397.6,391.4 L397.6,389.4 L397.6,387.5 L397.7,385.6 L397.7,383.7 L397.8,381.7 L397.8,379.8 L397.9,377.9 L398.0,376.0 L398.1,374.1 L398.2,372.1 L398.2,370.2 L398.3,368.2 L398.3,366.2 L398.4,364.1 L398.4,362.1 L398.4,360.0 L398.4,357.8 L398.4,355.7 L398.4,353.5 L398.4,351.3 L398.5,349.1 L398.6,347.0 L398.9,344.9 L399.3,342.9 L399.8,341.0 L400.6,339.2 L401.5,337.5Z" fill="rgb(174,237,212)" fill-opacity="0.78" stroke="#000" stroke-opacity="0.72"/>
</g>
<g stroke="#000" stroke-opacity="0.68" stroke-width="2" fill="none">
<line x1="87.0" y1="622.2" x2="742.3" y2="63.0" stroke-dasharray="4,4.8"/>
<line x1="251.0" y1="823.0" x2="696.3" y2="63.0" stroke-dasharray="11,4,3,4"/>
<line x1="384.1" y1="823.0" x2="681.0" y2="63.0" stroke-dasharray="11,4"/>
</g>
<circle cx="650.4" cy="141.4" r="6" fill="#2b2b2b" stroke="#111" stroke-width="1"/>
<g fill="#fff" stroke="#4a4a4a" stroke-width="1.3">
<rect x="90.5" y="623" width="54.2" height="31.5"/>
<rect x="227.9" y="826.7" width="54.4" height="31.5"/>
<rect x="369.3" y="826.7" width="54" height="31.5"/>
</g>
<g fill="#333" font-family="Liberation Sans" font-size="17.5">
<text x="104.6" y="645.7" letter-spacing="0.3">E/ρ</text>
<text x="231.8" y="849.5">E</text><text x="243.3" y="843" font-size="13">1/2</text><text x="263.5" y="849.5">/ρ</text>
<text x="373.3" y="849.5">E</text><text x="384.8" y="843" font-size="13">1/3</text><text x="405" y="849.5">/ρ</text>
</g>
<g stroke="#2b2b2b" stroke-width="2" fill="none">
<line x1="87" y1="62" x2="87" y2="864"/>
<line x1="86" y1="863" x2="838" y2="863"/>
<line x1="79.5" y1="863.0" x2="87" y2="863.0"/>
<line x1="79.5" y1="703.0" x2="87" y2="703.0"/>
<line x1="79.5" y1="543.0" x2="87" y2="543.0"/>
<line x1="79.5" y1="383.0" x2="87" y2="383.0"/>
<line x1="79.5" y1="223.0" x2="87" y2="223.0"/>
<line x1="79.5" y1="63.0" x2="87" y2="63.0"/>
<line x1="87.0" y1="863" x2="87.0" y2="869.5"/>
<line x1="143.4" y1="863" x2="143.4" y2="868.5"/>
<line x1="176.5" y1="863" x2="176.5" y2="868.5"/>
<line x1="199.9" y1="863" x2="199.9" y2="868.5"/>
<line x1="218.1" y1="863" x2="218.1" y2="868.5"/>
<line x1="232.9" y1="863" x2="232.9" y2="868.5"/>
<line x1="245.5" y1="863" x2="245.5" y2="868.5"/>
<line x1="256.3" y1="863" x2="256.3" y2="868.5"/>
<line x1="265.9" y1="863" x2="265.9" y2="868.5"/>
<line x1="274.5" y1="863" x2="274.5" y2="869.5"/>
<line x1="330.9" y1="863" x2="330.9" y2="868.5"/>
<line x1="364.0" y1="863" x2="364.0" y2="868.5"/>
<line x1="387.4" y1="863" x2="387.4" y2="868.5"/>
<line x1="405.6" y1="863" x2="405.6" y2="868.5"/>
<line x1="420.4" y1="863" x2="420.4" y2="868.5"/>
<line x1="433.0" y1="863" x2="433.0" y2="868.5"/>
<line x1="443.8" y1="863" x2="443.8" y2="868.5"/>
<line x1="453.4" y1="863" x2="453.4" y2="868.5"/>
<line x1="462.0" y1="863" x2="462.0" y2="869.5"/>
<line x1="518.4" y1="863" x2="518.4" y2="868.5"/>
<line x1="551.5" y1="863" x2="551.5" y2="868.5"/>
<line x1="574.9" y1="863" x2="574.9" y2="868.5"/>
<line x1="593.1" y1="863" x2="593.1" y2="868.5"/>
<line x1="607.9" y1="863" x2="607.9" y2="868.5"/>
<line x1="620.5" y1="863" x2="620.5" y2="868.5"/>
<line x1="631.3" y1="863" x2="631.3" y2="868.5"/>
<line x1="640.9" y1="863" x2="640.9" y2="868.5"/>
<line x1="649.5" y1="863" x2="649.5" y2="869.5"/>
<line x1="705.9" y1="863" x2="705.9" y2="868.5"/>
<line x1="739.0" y1="863" x2="739.0" y2="868.5"/>
<line x1="762.4" y1="863" x2="762.4" y2="868.5"/>
<line x1="780.6" y1="863" x2="780.6" y2="868.5"/>
<line x1="795.4" y1="863" x2="795.4" y2="868.5"/>
<line x1="808.0" y1="863" x2="808.0" y2="868.5"/>
<line x1="818.8" y1="863" x2="818.8" y2="868.5"/>
<line x1="828.4" y1="863" x2="828.4" y2="868.5"/>
<line x1="837.0" y1="863" x2="837.0" y2="869.5"/>
</g>
<g fill="#222" font-family="Liberation Sans" font-size="12">
<text x="74.5" y="867.3" text-anchor="end">0.01</text>
<text x="74.5" y="707.3" text-anchor="end">0.1</text>
<text x="74.5" y="547.3" text-anchor="end">1</text>
<text x="74.5" y="387.3" text-anchor="end">10</text>
<text x="74.5" y="227.3" text-anchor="end">100</text>
<text x="74.5" y="67.3" text-anchor="end">1000</text>
<text x="87.0" y="883.8" text-anchor="middle">0.01</text>
<text x="274.5" y="883.8" text-anchor="middle">0.1</text>
<text x="462.0" y="883.8" text-anchor="middle">1</text>
<text x="649.5" y="883.8" text-anchor="middle">10</text>
<text x="837.0" y="883.8" text-anchor="middle">100</text>
</g>
<rect x="489.2" y="5.7" width="156.6" height="76.8" fill="#fff" stroke="#1e1e1e" stroke-width="1.6"/>
<text x="498.7" y="36" font-family="Liberation Sans" font-weight="bold" font-size="18" fill="#3b3c52" letter-spacing="0.5">Metal</text>
<text x="498.5" y="66" font-family="Liberation Sans" font-size="18" fill="#3b3c48" letter-spacing="0.73">23557 materials</text>
<text x="49" y="27" font-family="Liberation Sans" font-size="18.5" fill="#3cb9a2" letter-spacing="0.28">All categories</text>
<text transform="translate(51,487) rotate(-90)" text-anchor="middle" font-family="Liberation Sans" font-size="17" fill="#222" letter-spacing="0.67">Elastic modulus, E (GPa)</text>
<text x="461.6" y="903.8" text-anchor="middle" font-family="Liberation Sans" font-size="17.5" fill="#222" letter-spacing="0.75">Density, ρ (g/cm³)</text>
<g font-family="Liberation Sans" font-size="18" fill="#3a3a3a" letter-spacing="0.75">
<circle cx="86.5" cy="936.6" r="6.2" fill="#111"/>
<circle cx="86.5" cy="967.8" r="6.2" fill="#a9d9f7"/>
<circle cx="86.5" cy="998.9" r="6.2" fill="#f59c80"/>
<circle cx="86.5" cy="1030.1" r="6.2" fill="#c6b9ef"/>
<circle cx="86.5" cy="1061.2" r="6.2" fill="#b6cf98"/>
<circle cx="86.5" cy="1092.4" r="6.2" fill="#ecd14f"/>
<circle cx="86.5" cy="1123.5" r="6.2" fill="#a9efd8"/>
<text x="99.7" y="943">Pure Molybdenum (Mo)</text>
<text x="99.7" y="974.2">Polymer</text>
<text x="99.7" y="1005.3">Metal</text>
<text x="99.7" y="1036.5">Composite</text>
<text x="99.7" y="1067.6">Ceramic</text>
<text x="99.7" y="1098.8">Glass</text>
<text x="99.7" y="1129.9">Biological Material</text>
<text x="612" y="943.4" letter-spacing="0.5">Min. mass design - Rod</text>
<text x="612" y="973.9" letter-spacing="0.5">Min. mass design - Beam</text>
<text x="612" y="1004.4" letter-spacing="0.5">Min. mass design - Shell</text>
</g>
<g stroke="#444" stroke-width="2.4" fill="none">
<line x1="574" y1="937" x2="598" y2="937" stroke-dasharray="3,7.5"/>
<line x1="574" y1="967.5" x2="598" y2="967.5" stroke-dasharray="3,4,10,4,3"/>
<line x1="574" y1="998" x2="598" y2="998" stroke-dasharray="9,6,9"/>
</g>
</svg>
</body></html>
